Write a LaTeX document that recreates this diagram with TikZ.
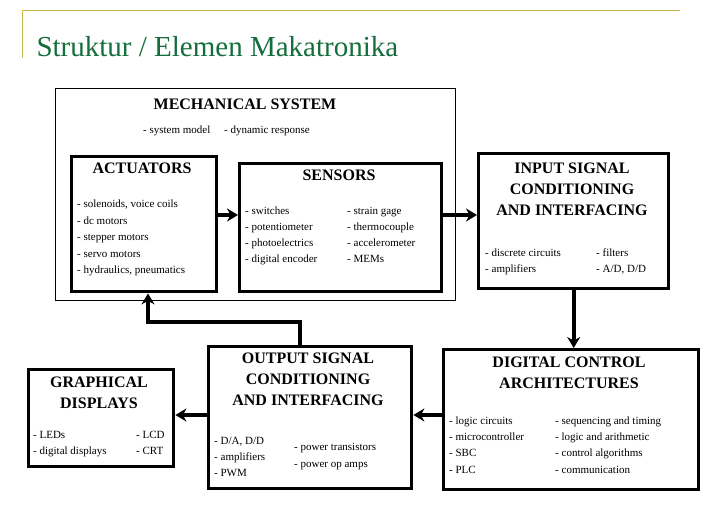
\documentclass[tikz,border=0pt]{standalone}
\usepackage{fontspec}
\setmainfont{Liberation Serif}
\usetikzlibrary{arrows.meta}
\definecolor{titlegreen}{RGB}{20,110,60}
\definecolor{ruleolive}{RGB}{205,185,70}
\tikzset{
  box/.style={draw, line width=3.4pt, anchor=north west, inner sep=0pt},
  head/.style={font=\fontsize{16}{21}\selectfont\bfseries, align=center, anchor=north, inner sep=0pt},
  item/.style={font=\fontsize{11}{13}\selectfont, anchor=base west, inner sep=0pt},
  flow/.style={line width=3.6pt, -{Stealth[length=11pt,width=13pt]}}
}
\begin{document}
\begin{tikzpicture}[x=1pt,y=-1pt]
    \useasboundingbox (0,0) rectangle (711,514);
    \draw[ruleolive, line width=1pt] (680,10) -- (22,10) -- (22,58);
    \node[anchor=base west, text=titlegreen, font=\fontsize{29}{32}\selectfont] (title) at (33,56) {Struktur / Elemen Makatronika};

    % boxes
    \node[draw, line width=1.4pt, anchor=north west, minimum width=400, minimum height=212] (mech) at (55,88) {};
    \node[box, minimum width=145, minimum height=135] (act) at (70,155) {};
    \node[box, minimum width=202, minimum height=128] (sens) at (238,162) {};
    \node[box, minimum width=190, minimum height=135] (inp) at (477,152) {};
    \node[box, minimum width=255, minimum height=140] (dig) at (442,348) {};
    \node[box, minimum width=203, minimum height=142] (outp) at (207,345) {};
    \node[box, minimum width=145, minimum height=97] (disp) at (27,368) {};

    % mechanical system
    \node[head] (mechT) at (245,99) {MECHANICAL SYSTEM};
    \node[item] at (143,133) {- system model \quad - dynamic response};

    % actuators
    \node[head] (actT) at (142,163) {ACTUATORS};
    \foreach \t [count=\i] in {{solenoids, voice coils}, dc motors, stepper motors, servo motors, {hydraulics, pneumatics}}
        \node[item] at (77,191+16.5*\i) {- \t};

    % sensors
    \node[head] (sensT) at (339,170) {SENSORS};
    \foreach \a/\b [count=\i] in {switches/strain gage, potentiometer/thermocouple, photoelectrics/accelerometer, digital encoder/MEMs} {
        \node[item] at (245,198+16.2*\i) {- \a};
        \node[item] at (347,198+16.2*\i) {- \b};
    }

    % input signal
    \node[head] (inpT) at (572,163) {INPUT SIGNAL\\CONDITIONING\\AND INTERFACING};
    \node[item] at (485,256) {- discrete circuits};
    \node[item] at (485,272) {- amplifiers};
    \node[item] at (596,256) {- filters};
    \node[item] at (596,272) {- A/D, D/D};

    % digital control
    \node[head] (digT) at (569,357) {DIGITAL CONTROL\\ARCHITECTURES};
    \foreach \a/\b [count=\i] in {logic circuits/sequencing and timing, microcontroller/logic and arithmetic, SBC/control algorithms, PLC/communication} {
        \node[item] at (449,408+16.3*\i) {- \a};
        \node[item] at (555,408+16.3*\i) {- \b};
    }

    % output signal
    \node[head] (outT) at (308,353) {OUTPUT SIGNAL\\CONDITIONING\\AND INTERFACING};
    \foreach \a [count=\i] in {{D/A, D/D}, amplifiers, PWM}
        \node[item] at (214,428+16*\i) {- \a};
    \node[item] at (294,450) {- power transistors};
    \node[item] at (294,467) {- power op amps};

    % graphical displays
    \node[head] (dispT) at (99,377) {GRAPHICAL\\DISPLAYS};
    \node[item] at (33,438) {- LEDs};
    \node[item] at (33,454) {- digital displays};
    \node[item] at (136,438) {- LCD};
    \node[item] at (136,454) {- CRT};

    % connectors
    \draw[flow] (act.east |- 0,215) -- (sens.west |- 0,215);
    \draw[flow] (sens.east |- 0,215) -- (inp.west |- 0,215);
    \draw[flow] (inp.south) -- (inp.south |- dig.north);
    \draw[flow] (dig.west |- 0,415) -- (outp.east |- 0,415);
    \draw[flow] (outp.west |- 0,415) -- (disp.east |- 0,415);
    \coordinate (fbA) at (300,322);
    \coordinate (fbB) at (148,322);
    \draw[flow] (outp.north -| fbA) -- (fbA) -- (fbB) -- (act.south -| fbB);
\end{tikzpicture}
\end{document}
